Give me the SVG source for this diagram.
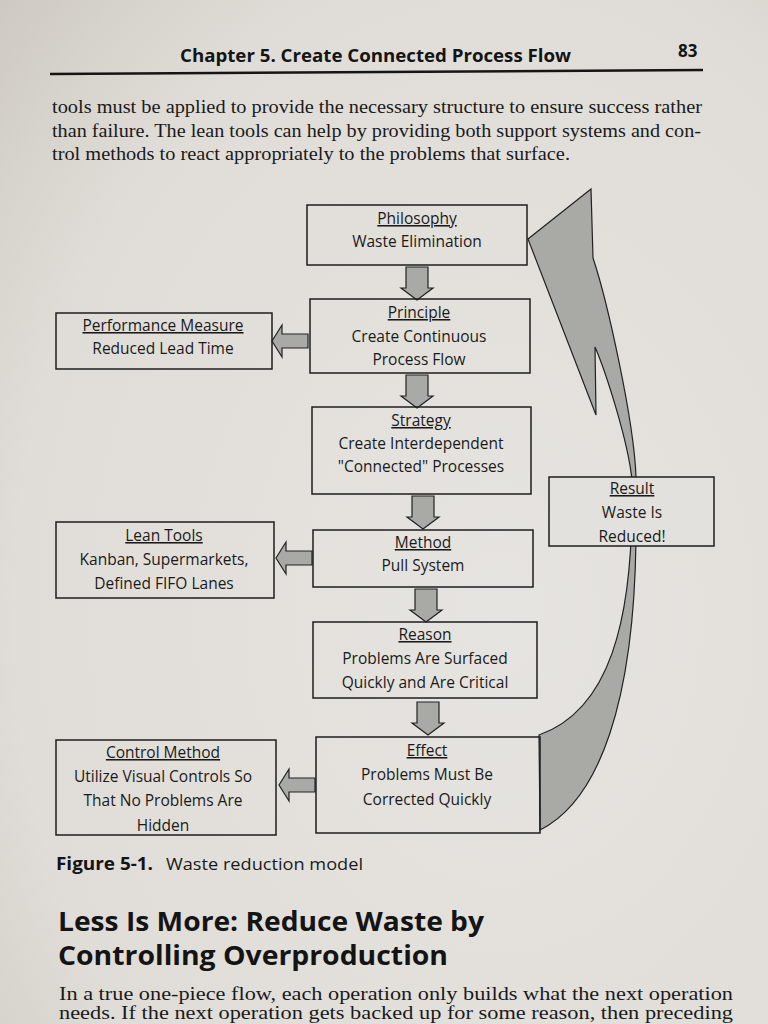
<svg xmlns="http://www.w3.org/2000/svg" width="768" height="1024" viewBox="0 0 768 1024">
<defs>
<radialGradient id="page" cx="0.65" cy="0.6" r="0.9">
<stop offset="0" stop-color="#e6e4e0"/>
<stop offset="0.7" stop-color="#e0ddd8"/>
<stop offset="1" stop-color="#cdc8c1"/>
</radialGradient>
<path id="down" d="M-11,0 H11 V21 H16 L0,33 L-16,21 H-11 Z"/>
<path id="left" d="M0,-7 H-26 V-16 L-36,0 L-26,16 V7 H0 Z"/>
<style>
.box{fill:none;stroke:#1e1e1e;stroke-width:1.5}
.rbox{fill:#e3e1dd;stroke:#1e1e1e;stroke-width:1.5}
.arr{fill:#a9a9a6;stroke:#222;stroke-width:1.2;stroke-linejoin:miter}
.t{font-family:"Open Sans","Noto Sans",sans-serif;font-size:15.5px;fill:#1a1a1a;text-anchor:middle}
.u{text-decoration:underline}
.serif{font-family:"Liberation Serif","DejaVu Serif",serif;font-size:18px;fill:#1a1a1a}
.hd{font-family:"Open Sans","Noto Sans",sans-serif;font-weight:700;fill:#141414}
</style>
</defs>
<rect x="0" y="0" width="768" height="1024" fill="url(#page)"/>

<g id="header">
<text class="hd" x="180" y="62" font-size="18" textLength="391" lengthAdjust="spacingAndGlyphs">Chapter 5. Create Connected Process Flow</text>
<text class="hd" x="678" y="57" font-size="17">83</text>
<path d="M50,74 L703,70" stroke="#151515" stroke-width="2.6" fill="none"/>
</g>

<g id="intro">
<text class="serif" x="52" y="113" textLength="650" lengthAdjust="spacingAndGlyphs">tools must be applied to provide the necessary structure to ensure success rather</text>
<text class="serif" x="52" y="137" textLength="649" lengthAdjust="spacingAndGlyphs">than failure. The lean tools can help by providing both support systems and con-</text>
<text class="serif" x="52" y="160" textLength="518" lengthAdjust="spacingAndGlyphs">trol methods to react appropriately to the problems that surface.</text>
</g>

<g id="connectors">
<path class="arr" d="M540,830 C600,800 634,700 636,540 L636,477 C634,420 607,300 593,258 L591,189 L528,239 L596,415 L595,347 C605,370 628,440 632,480 L632,500 C632,620 610,710 539,735 Z"/>
<use href="#down" class="arr" x="417" y="267"/>
<use href="#down" class="arr" x="417" y="375"/>
<use href="#down" class="arr" x="423" y="496"/>
<use href="#down" class="arr" x="426" y="589"/>
<use href="#down" class="arr" x="428" y="702"/>
<use href="#left" class="arr" x="308" y="341"/>
<use href="#left" class="arr" x="312" y="558"/>
<use href="#left" class="arr" x="315" y="785"/>
</g>

<g id="philosophy">
<rect class="box" x="307" y="205" width="220" height="60"/>
<text class="t u" x="417" y="224">Philosophy</text>
<text class="t" x="417" y="247">Waste Elimination</text>
</g>
<g id="principle">
<rect class="box" x="310" y="299" width="220" height="74"/>
<text class="t u" x="419" y="318">Principle</text>
<text class="t" x="419" y="342">Create Continuous</text>
<text class="t" x="419" y="365">Process Flow</text>
</g>
<g id="performance">
<rect class="box" x="56" y="313" width="216" height="56"/>
<text class="t u" x="163" y="331">Performance Measure</text>
<text class="t" x="163" y="354">Reduced Lead Time</text>
</g>
<g id="strategy">
<rect class="box" x="312" y="407" width="219" height="87"/>
<text class="t u" x="421" y="426">Strategy</text>
<text class="t" x="421" y="449">Create Interdependent</text>
<text class="t" x="421" y="472">"Connected" Processes</text>
</g>
<g id="method">
<rect class="box" x="313" y="530" width="220" height="57"/>
<text class="t u" x="423" y="548">Method</text>
<text class="t" x="423" y="571">Pull System</text>
</g>
<g id="leantools">
<rect class="box" x="56" y="522" width="218" height="76"/>
<text class="t u" x="164" y="541">Lean Tools</text>
<text class="t" x="164" y="565">Kanban, Supermarkets,</text>
<text class="t" x="164" y="589">Defined FIFO Lanes</text>
</g>
<g id="reason">
<rect class="box" x="313" y="622" width="224" height="76"/>
<text class="t u" x="425" y="640">Reason</text>
<text class="t" x="425" y="664">Problems Are Surfaced</text>
<text class="t" x="425" y="688">Quickly and Are Critical</text>
</g>
<g id="effect">
<rect class="box" x="316" y="737" width="224" height="96"/>
<text class="t u" x="427" y="756">Effect</text>
<text class="t" x="427" y="780">Problems Must Be</text>
<text class="t" x="427" y="805">Corrected Quickly</text>
</g>
<g id="control">
<rect class="box" x="56" y="740" width="220" height="95"/>
<text class="t u" x="163" y="758">Control Method</text>
<text class="t" x="163" y="782">Utilize Visual Controls So</text>
<text class="t" x="163" y="806">That No Problems Are</text>
<text class="t" x="163" y="831">Hidden</text>
</g>
<g id="result">
<rect class="rbox" x="549" y="477" width="165" height="69"/>
<text class="t u" x="632" y="494">Result</text>
<text class="t" x="632" y="518">Waste Is</text>
<text class="t" x="632" y="542">Reduced!</text>
</g>

<g id="caption">
<text class="hd" x="56" y="870" font-size="17" textLength="97" lengthAdjust="spacingAndGlyphs">Figure 5-1.</text>
<text x="166" y="870" font-family="'Open Sans','Noto Sans',sans-serif" font-size="17" fill="#1a1a1a" textLength="197" lengthAdjust="spacingAndGlyphs">Waste reduction model</text>
</g>

<g id="section">
<text class="hd" x="58" y="931" font-size="26" textLength="426" lengthAdjust="spacingAndGlyphs">Less Is More: Reduce Waste by</text>
<text class="hd" x="58" y="965" font-size="26" textLength="390" lengthAdjust="spacingAndGlyphs">Controlling Overproduction</text>
<text class="serif" x="59" y="1000" font-size="19" textLength="674" lengthAdjust="spacingAndGlyphs">In a true one-piece flow, each operation only builds what the next operation</text>
<text class="serif" x="59" y="1019" font-size="18" textLength="674" lengthAdjust="spacingAndGlyphs">needs. If the next operation gets backed up for some reason, then preceding</text>
</g>
</svg>
